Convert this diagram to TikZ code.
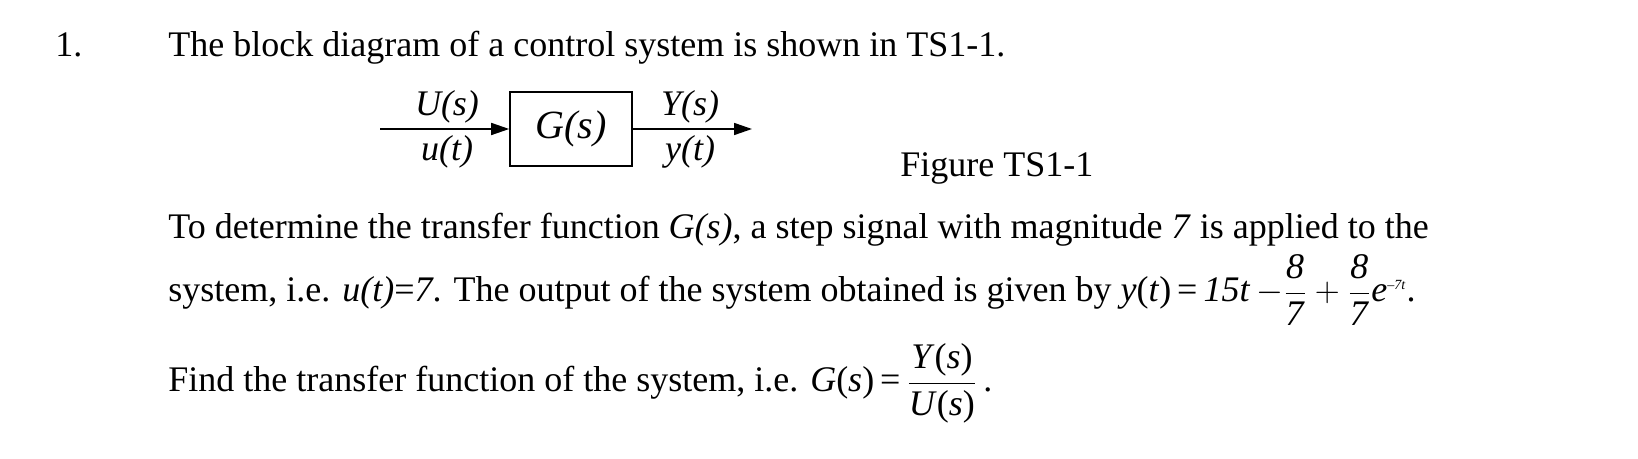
\documentclass[tikz,border=0pt]{standalone}
\usepackage{fontspec}
\setmainfont{Liberation Serif}
\usetikzlibrary{arrows.meta}
\newcommand{\ti}[1]{\textit{#1}}
\begin{document}
\begin{tikzpicture}[x=0.5pt,y=-0.5pt,
  txt/.style={anchor=base west,inner sep=0pt,font=\fontsize{18}{21}\selectfont},
  lbl/.style={inner sep=0pt,font=\fontsize{18}{21}\selectfont\itshape},
  sig/.style={-{Triangle[length=9pt,width=6pt]},line width=0.8pt}]
\useasboundingbox[fill=white] (0,0) rectangle (1638,459);
\node[txt] (num) at (55,57) {1.};
\node[txt] (l1) at (168,57) {The block diagram of a control system is shown in TS1-1.};
\node[draw,line width=0.8pt,minimum width=61pt,minimum height=37pt,lbl,font=\fontsize{20}{22}\selectfont\itshape] (G) at (571,129) {G(s)};
\coordinate (in) at (380,129);
\coordinate (out) at (752,129);
\draw[sig] (in) -- (G.west);
\draw[sig] (G.east) -- (out);
\node[lbl] (U) at (447,107) {U(s)};
\node[lbl] (u) at (447,152) {u(t)};
\node[lbl] (Y) at (690,107) {Y(s)};
\node[lbl] (y) at (690,152) {y(t)};
\node[txt] (fig) at (900,177) {Figure TS1-1};
\node[txt] (l2) at (168,239) {To determine the transfer function \ti{G(s)}, a step signal with magnitude \ti{7} is applied to the};
\node[txt] (l3) at (168,302) {system, i.e. \ti{u(t)}=\ti{7}. The output of the system obtained is given by \ti{y}(\ti{t})\,=\,\ti{15t}\,$-\displaystyle\frac{\mbox{\ti{8}}}{\mbox{\ti{7}}}+\frac{\mbox{\ti{8}}}{\mbox{\ti{7}}}$\ti{e}$^{\mbox{\scriptsize\ti{–7t}}}$.};
\node[txt] (l4) at (168,392) {Find the transfer function of the system, i.e. \ti{G}(\ti{s})\,=\,$\displaystyle\frac{\mbox{\ti{Y}(\ti{s})}}{\mbox{\ti{U}(\ti{s})}}$\,.};
\end{tikzpicture}
\end{document}
